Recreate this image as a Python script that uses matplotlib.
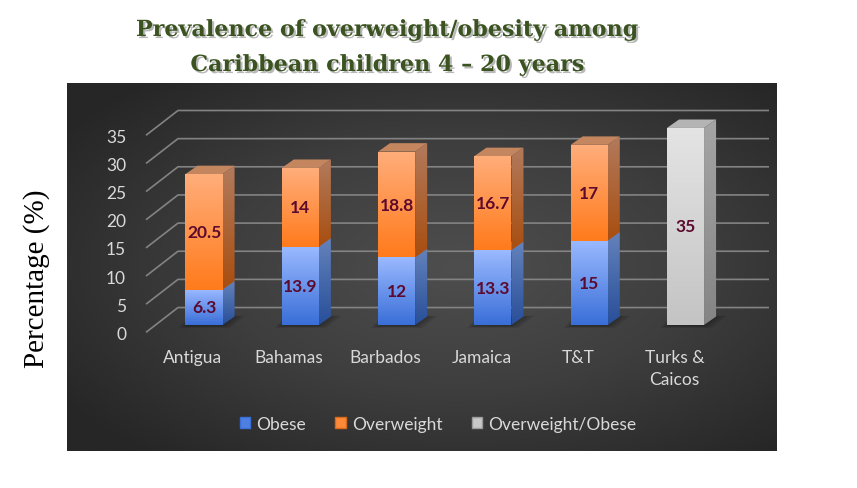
import numpy as np
import matplotlib.pyplot as plt
import matplotlib.patheffects as pe
from matplotlib.patches import Polygon, Patch
from matplotlib.colors import LinearSegmentedColormap

countries = ['Antigua', 'Bahamas', 'Barbados', 'Jamaica', 'T&T', 'Turks &\nCaicos']
obese = [6.3, 13.9, 12, 13.3, 15, None]
overweight = [20.5, 14, 18.8, 16.7, 17, None]
combined = [None, None, None, None, None, 35]
yticks = [0, 5, 10, 15, 20, 25, 30, 35]

# 3D look: bar width, depth offsets (data units)
W = 0.385
DX, DY = 0.125, 1.5
FRONT, BACK = 1.3, 3.1
GX0, GX1 = -0.602, -0.27
XMIN, XMAX = -0.78, 5.87

styles = {
    'obese': dict(front=('#3a6fd8', '#9ab9ff'), side=('#284f9a', '#6482bb'), top='#7f9fe0'),
    'over': dict(front=('#ff7b1c', '#ffad7a'), side=('#a84e10', '#b27a5c'), top='#c4865f'),
    'comb': dict(front=('#c4c4c4', '#e4e4e4'), side=('#858585', '#a5a5a5'), top='#b4b4b4'),
}

fig = plt.figure(figsize=(8.57, 4.89), dpi=100)
fig.patch.set_facecolor('white')

# dark panel with radial gradient
bg = fig.add_axes([67 / 857, 1 - 452 / 489, 710 / 857, 368 / 489])
yy, xx = np.mgrid[0:1:200j, 0:1:300j]
r = np.sqrt(((xx - 0.55) / 0.9) ** 2 + ((yy - 0.5) / 0.9) ** 2)
bg_cmap = LinearSegmentedColormap.from_list('bg', ['#4e4e4e', '#3e3e3e', '#262626'])
bg.imshow(r, cmap=bg_cmap, extent=[0, 1, 0, 1], aspect='auto', vmin=0, vmax=0.75)
bg.set_axis_off()

# main axes: y=0 at pixel 326, 5.63 px per unit
px = 5.63
ymin, ymax = -2.5, 42
top_px = 326 - ymax * px
bot_px = 326 - ymin * px
left_px = 204 + XMIN * 96.3
right_px = 204 + XMAX * 96.3
ax = fig.add_axes([left_px / 857, 1 - bot_px / 489,
                   (right_px - left_px) / 857, (bot_px - top_px) / 489])
ax.set_facecolor('none')
for s in ax.spines.values():
    s.set_visible(False)

for v in yticks:
    ax.plot([GX0, GX1, XMAX], [v - FRONT, v + BACK, v + BACK],
            color='#838383', lw=1.2, zorder=1, solid_capstyle='butt')

grad = np.linspace(0, 1, 64).reshape(-1, 1)


def face(poly_pts, colors, ext, z):
    poly = Polygon(poly_pts, closed=True, facecolor='none', edgecolor='none', zorder=z)
    ax.add_patch(poly)
    cm = LinearSegmentedColormap.from_list('g', list(colors))
    im = ax.imshow(grad, cmap=cm, extent=ext, aspect='auto', origin='lower',
                   zorder=z, interpolation='bilinear')
    im.set_clip_path(poly)


def box(x, y0, h, st, z):
    x0, x1 = x - W / 2, x + W / 2
    y1 = y0 + h
    side = [(x1, y0), (x1 + DX, y0 + DY), (x1 + DX, y1 + DY), (x1, y1)]
    face(side, st['side'], [x1, x1 + DX, y0, y1 + DY], z)
    top = [(x0, y1), (x1, y1), (x1 + DX, y1 + DY), (x0 + DX, y1 + DY)]
    ax.add_patch(Polygon(top, closed=True, facecolor=st['top'], edgecolor='none', zorder=z))
    front = [(x0, y0), (x1, y0), (x1, y1), (x0, y1)]
    face(front, st['front'], [x0, x1, y0, y1], z + 0.5)


label_kw = dict(ha='center', va='center', color='#5c0a2e', fontsize=12.5,
                fontweight='bold', family='Lato', zorder=10)

for i in range(len(countries)):
    # soft base shadow
    for k in range(4):
        e = 0.025 * k
        ax.add_patch(Polygon([(i - W / 2 - e, -0.2 - e * 4), (i + W / 2 + e, -0.2 - e * 4),
                              (i + W / 2 + DX + e * 1.5, DY + e * 2),
                              (i - W / 2 + DX - e, DY + e * 2)],
                             closed=True, facecolor='black', edgecolor='none', alpha=0.09,
                             zorder=2))
    if obese[i] is not None:
        box(i, 0, obese[i], styles['obese'], 3 + i)
        box(i, obese[i], overweight[i], styles['over'], 3.2 + i)
        ax.text(i, obese[i] / 2, f'{obese[i]:g}', **label_kw)
        ax.text(i, obese[i] + overweight[i] / 2, f'{overweight[i]:g}', **label_kw)
    else:
        box(i, 0, combined[i], styles['comb'], 3 + i)
        ax.text(i, combined[i] / 2, f'{combined[i]:g}', **label_kw)

ax.set_xlim(XMIN, XMAX)
ax.set_ylim(ymin, ymax)
ax.set_yticks([v - FRONT for v in yticks])
ax.set_yticklabels([str(v) for v in yticks])
ax.set_xticks([i - 0.115 for i in range(len(countries))])
ax.set_xticklabels(countries)
ax.tick_params(axis='both', length=0, colors='#d9d9d9', labelsize=12.5)
ax.tick_params(axis='y', pad=2)
ax.tick_params(axis='x', pad=7)
for lbl in ax.get_xticklabels() + ax.get_yticklabels():
    lbl.set_family('Lato')
for lbl in ax.get_xticklabels():
    lbl.set_linespacing(1.45)

handles = [Patch(facecolor='#4f7fe0', edgecolor='#3a6fd8'),
           Patch(facecolor='#ff8a3a', edgecolor='#d86a1a'),
           Patch(facecolor='#c8c8c8', edgecolor='#9a9a9a')]
fig.legend(handles, ['Obese', 'Overweight', 'Overweight/Obese'], loc='center',
           bbox_to_anchor=(438 / 857, 1 - 425 / 489), ncol=3, frameon=False,
           handlelength=0.6, handleheight=0.6, handletextpad=0.35, columnspacing=1.7,
           prop={'family': 'Lato', 'size': 12.5}, labelcolor='#d9d9d9')

shadow = [pe.withSimplePatchShadow(offset=(1.5, -1.5), shadow_rgbFace='#8a8a8a', alpha=0.6)]
for line, ypx in [('Prevalence of overweight/obesity among', 31),
                  ('Caribbean children 4 \u2013 20 years', 66)]:
    fig.text(387 / 857, 1 - ypx / 489, line, ha='center', va='center',
             family='DejaVu Serif', fontweight='bold', fontsize=16,
             color='#3b5320', path_effects=shadow)

fig.text(37 / 857, 1 - 279 / 489, 'Percentage (%)', rotation=90, ha='center', va='center',
         family='Liberation Serif', fontsize=21, color='black')

fig.savefig('out.png', dpi=100)
